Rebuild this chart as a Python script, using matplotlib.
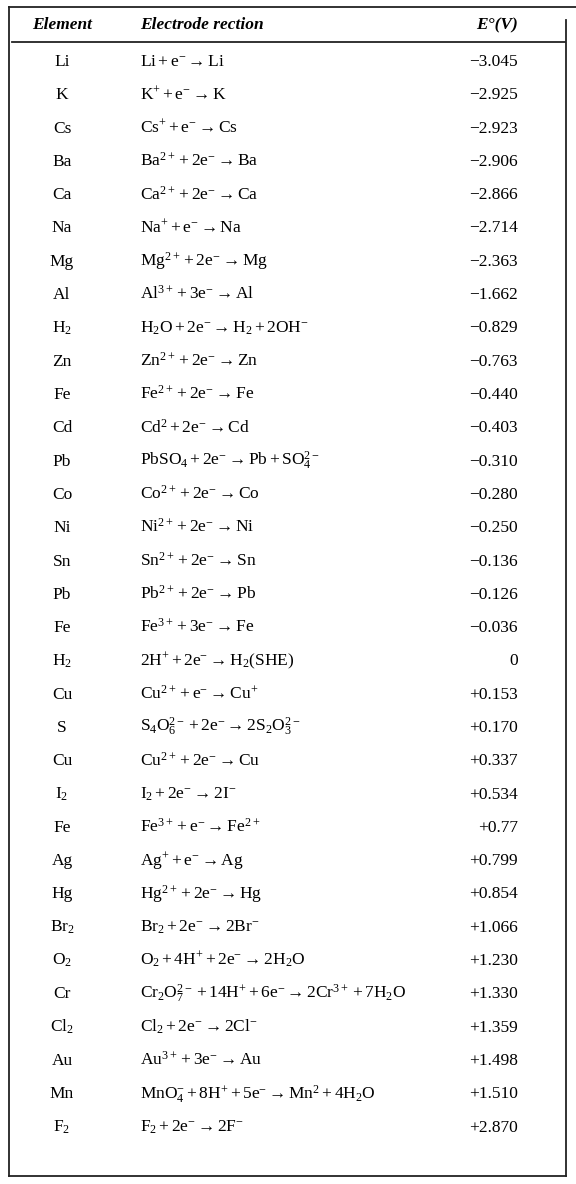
import matplotlib
matplotlib.use("Agg")
from matplotlib import pyplot as plt

plt.rcParams['font.family'] = ['Liberation Serif', 'DejaVu Serif']
plt.rcParams['mathtext.fontset'] = 'custom'
plt.rcParams['mathtext.rm'] = 'Liberation Serif'
plt.rcParams['mathtext.it'] = 'Liberation Serif:italic'
plt.rcParams['mathtext.bf'] = 'Liberation Serif:bold'
plt.rcParams['mathtext.default'] = 'rm'

#########################
# DATA
ELEMENTS = [r'Li', r'K', r'Cs', r'Ba', r'Ca', r'Na', r'Mg', r'Al', r'$H_2$', r'Zn', r'Fe',
            r'Cd', r'Pb', r'Co', r'Ni', r'Sn', r'Pb', r'Fe', r'$H_2$', r'Cu', r'S', r'Cu',
            r'$I_2$', r'Fe', r'Ag', r'Hg', r'$Br_2$', r'$O_2$', r'Cr', r'$Cl_2$', r'Au',
            r'Mn', r'$F_2$']

REACTIONS = [
    r'Li+e^{-}\rightarrow Li',
    r'K^{+}+e^{-}\rightarrow K',
    r'Cs^{+}+e^{-}\rightarrow Cs',
    r'Ba^{2+}+2e^{-}\rightarrow Ba',
    r'Ca^{2+}+2e^{-}\rightarrow Ca',
    r'Na^{+}+e^{-}\rightarrow Na',
    r'Mg^{2+}+2e^{-}\rightarrow Mg',
    r'Al^{3+}+3e^{-}\rightarrow Al',
    r'H_2O+2e^{-}\rightarrow H_2+2OH^{-}',
    r'Zn^{2+}+2e^{-}\rightarrow Zn',
    r'Fe^{2+}+2e^{-}\rightarrow Fe',
    r'Cd^{2}+2e^{-}\rightarrow Cd',
    r'PbSO_4+2e^{-}\rightarrow Pb+SO_4^{2-}',
    r'Co^{2+}+2e^{-}\rightarrow Co',
    r'Ni^{2+}+2e^{-}\rightarrow Ni',
    r'Sn^{2+}+2e^{-}\rightarrow Sn',
    r'Pb^{2+}+2e^{-}\rightarrow Pb',
    r'Fe^{3+}+3e^{-}\rightarrow Fe',
    r'2H^{+}+2e^{-}\rightarrow H_2(SHE)',
    r'Cu^{2+}+e^{-}\rightarrow Cu^{+}',
    r'S_4O_6^{2-}+2e^{-}\rightarrow 2S_2O_3^{2-}',
    r'Cu^{2+}+2e^{-}\rightarrow Cu',
    r'I_2+2e^{-}\rightarrow 2I^{-}',
    r'Fe^{3+}+e^{-}\rightarrow Fe^{2+}',
    r'Ag^{+}+e^{-}\rightarrow Ag',
    r'Hg^{2+}+2e^{-}\rightarrow Hg',
    r'Br_2+2e^{-}\rightarrow 2Br^{-}',
    r'O_2+4H^{+}+2e^{-}\rightarrow 2H_2O',
    r'Cr_2O_7^{2-}+14H^{+}+6e^{-}\rightarrow 2Cr^{3+}+7H_2O',
    r'Cl_2+2e^{-}\rightarrow 2Cl^{-}',
    r'Au^{3+}+3e^{-}\rightarrow Au',
    r'MnO_4^{-}+8H^{+}+5e^{-}\rightarrow Mn^{2}+4H_2O',
    r'F_2+2e^{-}\rightarrow 2F^{-}',
]

POTENTIALS = ['\u22123.045', '\u22122.925', '\u22122.923', '\u22122.906', '\u22122.866',
              '\u22122.714', '\u22122.363', '\u22121.662', '\u22120.829', '\u22120.763',
              '\u22120.440', '\u22120.403', '\u22120.310', '\u22120.280', '\u22120.250',
              '\u22120.136', '\u22120.126', '\u22120.036', '0', '+0.153', '+0.170',
              '+0.337', '+0.534', '+0.77', '+0.799', '+0.854', '+1.066', '+1.230',
              '+1.330', '+1.359', '+1.498', '+1.510', '+2.870']

HEADERS = ['Element', 'Electrode rection', 'E\u00b0(V)']

#########################
# LAYOUT
W, H = 576, 1184
ROW0, ROW_STEP = 61, 33.3
FS = 12.5

fig = plt.figure(figsize=(W / 100, H / 100), dpi=100)
ax = fig.add_axes([0, 0, 1, 1])
ax.set_xlim(0, W)
ax.set_ylim(H, 0)
ax.axis('off')

# frame
lw = 1.3
ax.plot([9, 576], [7, 7], color='#222', lw=lw)
ax.plot([9, 9], [7, 1176], color='#222', lw=lw)
ax.plot([9, 566], [1176, 1176], color='#222', lw=lw)
ax.plot([566, 566], [20, 1176], color='#222', lw=lw)
ax.plot([12, 565], [42, 42], color='#222', lw=lw)

hdr = dict(fontsize=FS, fontweight='bold', fontstyle='italic', va='center')
ax.text(62, 25, HEADERS[0], ha='center', **hdr)
ax.text(140, 25, HEADERS[1], ha='left', **hdr)
ax.text(518, 25, HEADERS[2], ha='right', **hdr)

for i, (el, rx, pot) in enumerate(zip(ELEMENTS, REACTIONS, POTENTIALS)):
    y = ROW0 + i * ROW_STEP + 5
    ax.text(62, y, el, ha='center', va='baseline', fontsize=FS)
    ax.text(140, y, '$' + rx + '$', ha='left', va='baseline', fontsize=FS)
    ax.text(518, y, pot, ha='right', va='baseline', fontsize=FS)

fig.savefig('out.png', dpi=100)
